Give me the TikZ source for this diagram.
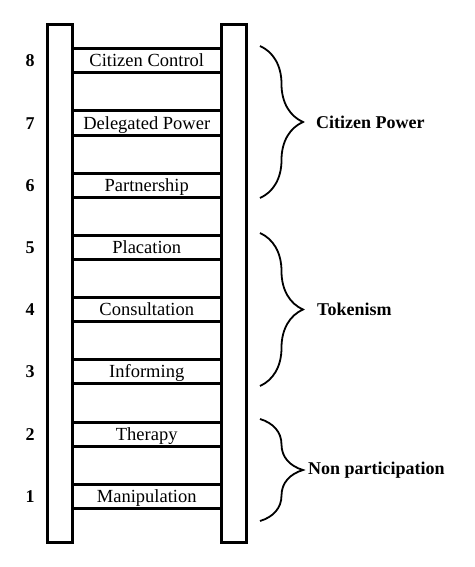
\documentclass[tikz,border=0pt]{standalone}
\usepackage{fontspec}
\setmainfont{Liberation Serif}
\usetikzlibrary{decorations.pathreplacing,positioning}

\begin{document}
\begin{tikzpicture}[
    x=1pt, y=-1pt,
    rail/.style = {draw, line width=3pt, minimum width=24.5pt, minimum height=518pt, inner sep=0pt},
    rung/.style = {draw, line width=3pt, minimum width=149.5pt, minimum height=24pt, inner sep=0pt,
      text height=12pt, text depth=0pt, font=\fontsize{18.5}{20}\selectfont},
    num/.style = {font=\fontsize{18}{20}\selectfont\bfseries, text height=12pt, text depth=0pt},
    group/.style = {font=\fontsize{18}{20}\selectfont\bfseries, anchor=west, inner sep=0pt},
    brc/.style = {decorate, decoration={brace,amplitude=43pt}, line width=1.8pt}
    ]
    \useasboundingbox (0,0) rectangle (474,567);
    % Rails
    \node[rail] (lrail) at (59.75,283.5) {};
    \node[rail] (rrail) at (234,283.5) {};
    % Rungs and numbers
    \foreach \k/\txt in {8/Citizen Control,7/Delegated Power,6/Partnership,5/Placation,
                         4/Consultation,3/Informing,2/Therapy,1/Manipulation} {
      \pgfmathsetmacro\yy{60.8+(8-\k)*62.2}
      \node[rung] (r\k) at (146.75,\yy) {\txt};
      \node[num] (n\k) at (30,\yy) {\k};
    }
    % Braces
    \coordinate (cpT) at (260,46);
    \coordinate (cpB) at (260,198);
    \coordinate (tkT) at (260,233);
    \coordinate (tkB) at (260,386);
    \coordinate (npT) at (260,419);
    \coordinate (npB) at (260,521);
    \draw[brc] (cpT) -- coordinate[midway] (cpM) (cpB);
    \draw[brc] (tkT) -- coordinate[midway] (tkM) (tkB);
    \draw[brc] (npT) -- coordinate[midway] (npM) (npB);
    \node[group, right=56pt of cpM] (cp) {Citizen Power};
    \node[group, right=57pt of tkM] (tk) {Tokenism};
    \node[group, right=48pt of npM] (np) {Non participation};
\end{tikzpicture}
\end{document}
